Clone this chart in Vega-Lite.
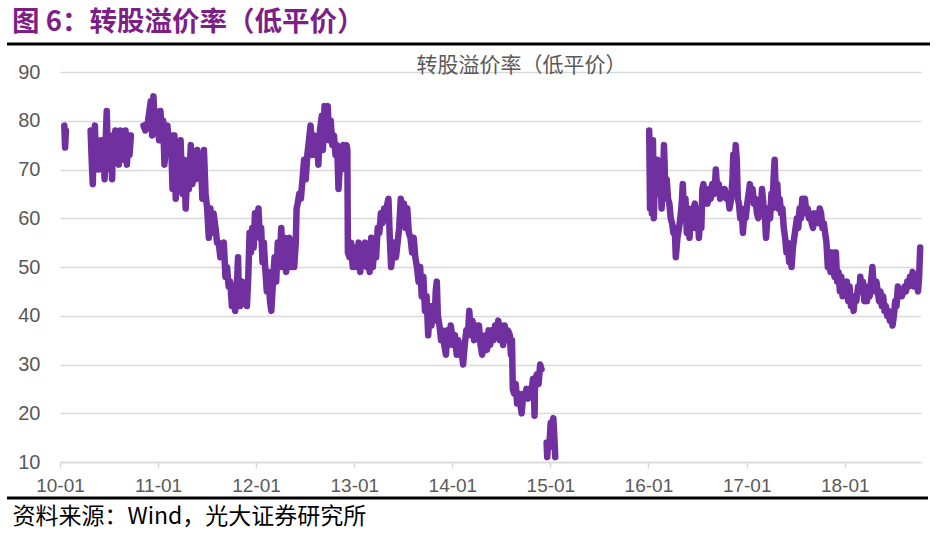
{
  "$schema": "https://vega.github.io/schema/vega-lite/v6.json",
  "width": 861,
  "height": 390,
  "autosize": {"type": "none"},
  "padding": {"left": 60, "top": 72, "right": 15, "bottom": 72},
  "background": "white",
  "config": {"view": {"stroke": null}, "font": "Liberation Sans"},
  "title": {
    "text": "图 6：转股溢价率（低平价）",
    "anchor": "start",
    "frame": "group",
    "dx": -48,
    "offset": 6,
    "font": "Noto Sans CJK SC",
    "fontSize": 27.5,
    "fontWeight": "bold",
    "color": "#7E1F86"
  },
  "layer": [
    {
      "data": {
        "values": [
          {"d": "2010-01-17", "v": 79, "s": "A"},
          {"d": "2010-01-20", "v": 74.5, "s": "A"},
          {"d": "2010-01-23", "v": 78, "s": "A"},
          {"d": "2010-04-25", "v": 78, "s": "B"},
          {"d": "2010-04-29", "v": 72, "s": "B"},
          {"d": "2010-05-03", "v": 67, "s": "B"},
          {"d": "2010-05-07", "v": 76, "s": "B"},
          {"d": "2010-05-11", "v": 79, "s": "B"},
          {"d": "2010-05-15", "v": 71, "s": "B"},
          {"d": "2010-05-19", "v": 76, "s": "B"},
          {"d": "2010-05-23", "v": 70, "s": "B"},
          {"d": "2010-05-27", "v": 75, "s": "B"},
          {"d": "2010-05-31", "v": 72, "s": "B"},
          {"d": "2010-06-04", "v": 76, "s": "B"},
          {"d": "2010-06-08", "v": 70, "s": "B"},
          {"d": "2010-06-12", "v": 74, "s": "B"},
          {"d": "2010-06-16", "v": 68, "s": "B"},
          {"d": "2010-06-20", "v": 76, "s": "B"},
          {"d": "2010-06-24", "v": 82, "s": "B"},
          {"d": "2010-06-28", "v": 74, "s": "B"},
          {"d": "2010-07-02", "v": 77, "s": "B"},
          {"d": "2010-07-06", "v": 70, "s": "B"},
          {"d": "2010-07-10", "v": 75, "s": "B"},
          {"d": "2010-07-14", "v": 68, "s": "B"},
          {"d": "2010-07-18", "v": 77, "s": "B"},
          {"d": "2010-07-22", "v": 73, "s": "B"},
          {"d": "2010-07-26", "v": 78, "s": "B"},
          {"d": "2010-07-30", "v": 72, "s": "B"},
          {"d": "2010-08-03", "v": 77, "s": "B"},
          {"d": "2010-08-08", "v": 71, "s": "B"},
          {"d": "2010-08-13", "v": 78, "s": "B"},
          {"d": "2010-08-18", "v": 73, "s": "B"},
          {"d": "2010-08-23", "v": 77, "s": "B"},
          {"d": "2010-08-28", "v": 72, "s": "B"},
          {"d": "2010-09-02", "v": 78, "s": "B"},
          {"d": "2010-09-07", "v": 71, "s": "B"},
          {"d": "2010-09-12", "v": 76, "s": "B"},
          {"d": "2010-09-17", "v": 73, "s": "B"},
          {"d": "2010-09-22", "v": 77, "s": "B"},
          {"d": "2010-11-08", "v": 79, "s": "C"},
          {"d": "2010-11-15", "v": 78, "s": "C"},
          {"d": "2010-11-25", "v": 80, "s": "C"},
          {"d": "2010-12-05", "v": 84, "s": "C"},
          {"d": "2010-12-10", "v": 77, "s": "C"},
          {"d": "2010-12-15", "v": 85, "s": "C"},
          {"d": "2010-12-20", "v": 79, "s": "C"},
          {"d": "2010-12-25", "v": 82, "s": "C"},
          {"d": "2011-01-05", "v": 76, "s": "C"},
          {"d": "2011-01-10", "v": 82, "s": "C"},
          {"d": "2011-01-15", "v": 77, "s": "C"},
          {"d": "2011-01-20", "v": 80, "s": "C"},
          {"d": "2011-01-25", "v": 71, "s": "C"},
          {"d": "2011-02-05", "v": 79, "s": "C"},
          {"d": "2011-02-12", "v": 74, "s": "C"},
          {"d": "2011-02-18", "v": 77, "s": "C"},
          {"d": "2011-02-24", "v": 66, "s": "C"},
          {"d": "2011-03-03", "v": 77, "s": "C"},
          {"d": "2011-03-08", "v": 64, "s": "C"},
          {"d": "2011-03-14", "v": 75, "s": "C"},
          {"d": "2011-03-20", "v": 66, "s": "C"},
          {"d": "2011-03-26", "v": 76, "s": "C"},
          {"d": "2011-04-02", "v": 65, "s": "C"},
          {"d": "2011-04-08", "v": 72, "s": "C"},
          {"d": "2011-04-14", "v": 62, "s": "C"},
          {"d": "2011-04-20", "v": 70, "s": "C"},
          {"d": "2011-04-26", "v": 66, "s": "C"},
          {"d": "2011-05-03", "v": 75, "s": "C"},
          {"d": "2011-05-09", "v": 67, "s": "C"},
          {"d": "2011-05-15", "v": 73, "s": "C"},
          {"d": "2011-05-21", "v": 68, "s": "C"},
          {"d": "2011-05-27", "v": 74, "s": "C"},
          {"d": "2011-06-03", "v": 69, "s": "C"},
          {"d": "2011-06-09", "v": 73, "s": "C"},
          {"d": "2011-06-15", "v": 64, "s": "C"},
          {"d": "2011-06-21", "v": 74, "s": "C"},
          {"d": "2011-06-27", "v": 65, "s": "C"},
          {"d": "2011-07-03", "v": 62, "s": "C"},
          {"d": "2011-07-09", "v": 56, "s": "C"},
          {"d": "2011-07-15", "v": 62, "s": "C"},
          {"d": "2011-07-21", "v": 57, "s": "C"},
          {"d": "2011-07-27", "v": 61, "s": "C"},
          {"d": "2011-08-03", "v": 58, "s": "C"},
          {"d": "2011-08-09", "v": 55, "s": "C"},
          {"d": "2011-08-15", "v": 55, "s": "C"},
          {"d": "2011-08-21", "v": 52, "s": "C"},
          {"d": "2011-08-27", "v": 54, "s": "C"},
          {"d": "2011-09-03", "v": 55, "s": "C"},
          {"d": "2011-09-09", "v": 48, "s": "C"},
          {"d": "2011-09-15", "v": 50, "s": "C"},
          {"d": "2011-09-21", "v": 46, "s": "C"},
          {"d": "2011-09-27", "v": 47, "s": "C"},
          {"d": "2011-10-03", "v": 42, "s": "C"},
          {"d": "2011-10-09", "v": 46, "s": "C"},
          {"d": "2011-10-15", "v": 41, "s": "C"},
          {"d": "2011-10-21", "v": 45, "s": "C"},
          {"d": "2011-10-26", "v": 52, "s": "C"},
          {"d": "2011-10-29", "v": 44, "s": "C"},
          {"d": "2011-11-04", "v": 42, "s": "C"},
          {"d": "2011-11-10", "v": 47, "s": "C"},
          {"d": "2011-11-16", "v": 43, "s": "C"},
          {"d": "2011-11-22", "v": 46, "s": "C"},
          {"d": "2011-11-28", "v": 42, "s": "C"},
          {"d": "2011-12-03", "v": 48, "s": "C"},
          {"d": "2011-12-08", "v": 57, "s": "C"},
          {"d": "2011-12-13", "v": 53, "s": "C"},
          {"d": "2011-12-18", "v": 58, "s": "C"},
          {"d": "2011-12-23", "v": 54, "s": "C"},
          {"d": "2011-12-28", "v": 61, "s": "C"},
          {"d": "2012-01-05", "v": 59, "s": "C"},
          {"d": "2012-01-10", "v": 62, "s": "C"},
          {"d": "2012-01-15", "v": 56, "s": "C"},
          {"d": "2012-01-20", "v": 58, "s": "C"},
          {"d": "2012-01-25", "v": 51, "s": "C"},
          {"d": "2012-01-30", "v": 55, "s": "C"},
          {"d": "2012-02-04", "v": 50, "s": "C"},
          {"d": "2012-02-10", "v": 45, "s": "C"},
          {"d": "2012-02-16", "v": 49, "s": "C"},
          {"d": "2012-02-22", "v": 43, "s": "C"},
          {"d": "2012-02-27", "v": 41, "s": "C"},
          {"d": "2012-03-04", "v": 47, "s": "C"},
          {"d": "2012-03-10", "v": 52, "s": "C"},
          {"d": "2012-03-16", "v": 47, "s": "C"},
          {"d": "2012-03-22", "v": 55, "s": "C"},
          {"d": "2012-03-28", "v": 50, "s": "C"},
          {"d": "2012-04-04", "v": 58, "s": "C"},
          {"d": "2012-04-10", "v": 50, "s": "C"},
          {"d": "2012-04-16", "v": 56, "s": "C"},
          {"d": "2012-04-22", "v": 49, "s": "C"},
          {"d": "2012-04-28", "v": 55, "s": "C"},
          {"d": "2012-05-04", "v": 56, "s": "C"},
          {"d": "2012-05-10", "v": 50, "s": "C"},
          {"d": "2012-05-16", "v": 54, "s": "C"},
          {"d": "2012-05-22", "v": 50, "s": "C"},
          {"d": "2012-05-28", "v": 55, "s": "C"},
          {"d": "2012-05-31", "v": 62, "s": "C"},
          {"d": "2012-06-04", "v": 63, "s": "C"},
          {"d": "2012-06-10", "v": 65, "s": "C"},
          {"d": "2012-06-16", "v": 64, "s": "C"},
          {"d": "2012-06-22", "v": 68, "s": "C"},
          {"d": "2012-06-28", "v": 72, "s": "C"},
          {"d": "2012-07-04", "v": 68, "s": "C"},
          {"d": "2012-07-10", "v": 73, "s": "C"},
          {"d": "2012-07-16", "v": 76, "s": "C"},
          {"d": "2012-07-22", "v": 79, "s": "C"},
          {"d": "2012-07-28", "v": 73, "s": "C"},
          {"d": "2012-08-04", "v": 77, "s": "C"},
          {"d": "2012-08-10", "v": 73, "s": "C"},
          {"d": "2012-08-16", "v": 76, "s": "C"},
          {"d": "2012-08-20", "v": 71, "s": "C"},
          {"d": "2012-08-26", "v": 78, "s": "C"},
          {"d": "2012-09-02", "v": 81, "s": "C"},
          {"d": "2012-09-06", "v": 74, "s": "C"},
          {"d": "2012-09-12", "v": 83, "s": "C"},
          {"d": "2012-09-18", "v": 80, "s": "C"},
          {"d": "2012-09-24", "v": 83, "s": "C"},
          {"d": "2012-09-29", "v": 76, "s": "C"},
          {"d": "2012-10-05", "v": 80, "s": "C"},
          {"d": "2012-10-11", "v": 75, "s": "C"},
          {"d": "2012-10-17", "v": 77, "s": "C"},
          {"d": "2012-10-23", "v": 73, "s": "C"},
          {"d": "2012-10-29", "v": 75, "s": "C"},
          {"d": "2012-11-03", "v": 66, "s": "C"},
          {"d": "2012-11-09", "v": 72, "s": "C"},
          {"d": "2012-11-15", "v": 70, "s": "C"},
          {"d": "2012-11-21", "v": 75, "s": "C"},
          {"d": "2012-11-27", "v": 71, "s": "C"},
          {"d": "2012-12-03", "v": 75, "s": "C"},
          {"d": "2012-12-06", "v": 74, "s": "C"},
          {"d": "2012-12-08", "v": 53, "s": "C"},
          {"d": "2012-12-14", "v": 52, "s": "C"},
          {"d": "2012-12-20", "v": 55, "s": "C"},
          {"d": "2012-12-26", "v": 50, "s": "C"},
          {"d": "2013-01-05", "v": 54, "s": "C"},
          {"d": "2013-01-11", "v": 50, "s": "C"},
          {"d": "2013-01-17", "v": 55, "s": "C"},
          {"d": "2013-01-23", "v": 49, "s": "C"},
          {"d": "2013-01-29", "v": 54, "s": "C"},
          {"d": "2013-02-04", "v": 51, "s": "C"},
          {"d": "2013-02-10", "v": 55, "s": "C"},
          {"d": "2013-02-16", "v": 50, "s": "C"},
          {"d": "2013-02-22", "v": 54, "s": "C"},
          {"d": "2013-02-27", "v": 49, "s": "C"},
          {"d": "2013-03-05", "v": 56, "s": "C"},
          {"d": "2013-03-11", "v": 50, "s": "C"},
          {"d": "2013-03-17", "v": 55, "s": "C"},
          {"d": "2013-03-23", "v": 52, "s": "C"},
          {"d": "2013-03-29", "v": 58, "s": "C"},
          {"d": "2013-04-04", "v": 57, "s": "C"},
          {"d": "2013-04-10", "v": 61, "s": "C"},
          {"d": "2013-04-16", "v": 59, "s": "C"},
          {"d": "2013-04-22", "v": 62, "s": "C"},
          {"d": "2013-04-28", "v": 60, "s": "C"},
          {"d": "2013-05-04", "v": 63, "s": "C"},
          {"d": "2013-05-08", "v": 64, "s": "C"},
          {"d": "2013-05-13", "v": 56, "s": "C"},
          {"d": "2013-05-18", "v": 50, "s": "C"},
          {"d": "2013-05-24", "v": 53, "s": "C"},
          {"d": "2013-05-30", "v": 55, "s": "C"},
          {"d": "2013-06-05", "v": 52, "s": "C"},
          {"d": "2013-06-11", "v": 55, "s": "C"},
          {"d": "2013-06-17", "v": 58, "s": "C"},
          {"d": "2013-06-23", "v": 64, "s": "C"},
          {"d": "2013-06-29", "v": 62, "s": "C"},
          {"d": "2013-07-05", "v": 63, "s": "C"},
          {"d": "2013-07-11", "v": 58, "s": "C"},
          {"d": "2013-07-17", "v": 62, "s": "C"},
          {"d": "2013-07-23", "v": 57, "s": "C"},
          {"d": "2013-07-29", "v": 56, "s": "C"},
          {"d": "2013-08-04", "v": 53, "s": "C"},
          {"d": "2013-08-10", "v": 56, "s": "C"},
          {"d": "2013-08-16", "v": 52, "s": "C"},
          {"d": "2013-08-22", "v": 50, "s": "C"},
          {"d": "2013-08-28", "v": 47, "s": "C"},
          {"d": "2013-09-03", "v": 50, "s": "C"},
          {"d": "2013-09-09", "v": 44, "s": "C"},
          {"d": "2013-09-15", "v": 48, "s": "C"},
          {"d": "2013-09-21", "v": 41, "s": "C"},
          {"d": "2013-09-27", "v": 44, "s": "C"},
          {"d": "2013-10-03", "v": 36, "s": "C"},
          {"d": "2013-10-09", "v": 42, "s": "C"},
          {"d": "2013-10-15", "v": 38, "s": "C"},
          {"d": "2013-10-21", "v": 42, "s": "C"},
          {"d": "2013-10-27", "v": 39, "s": "C"},
          {"d": "2013-10-31", "v": 45, "s": "C"},
          {"d": "2013-11-04", "v": 47, "s": "C"},
          {"d": "2013-11-08", "v": 40, "s": "C"},
          {"d": "2013-11-14", "v": 38, "s": "C"},
          {"d": "2013-11-20", "v": 35, "s": "C"},
          {"d": "2013-11-26", "v": 37, "s": "C"},
          {"d": "2013-12-02", "v": 34, "s": "C"},
          {"d": "2013-12-08", "v": 32, "s": "C"},
          {"d": "2013-12-14", "v": 37, "s": "C"},
          {"d": "2013-12-20", "v": 34, "s": "C"},
          {"d": "2013-12-26", "v": 38, "s": "C"},
          {"d": "2014-01-05", "v": 34, "s": "C"},
          {"d": "2014-01-11", "v": 36, "s": "C"},
          {"d": "2014-01-17", "v": 32, "s": "C"},
          {"d": "2014-01-23", "v": 35, "s": "C"},
          {"d": "2014-01-29", "v": 32, "s": "C"},
          {"d": "2014-02-04", "v": 33, "s": "C"},
          {"d": "2014-02-10", "v": 30, "s": "C"},
          {"d": "2014-02-16", "v": 34, "s": "C"},
          {"d": "2014-02-22", "v": 37, "s": "C"},
          {"d": "2014-02-28", "v": 36, "s": "C"},
          {"d": "2014-03-05", "v": 41, "s": "C"},
          {"d": "2014-03-11", "v": 36, "s": "C"},
          {"d": "2014-03-17", "v": 39, "s": "C"},
          {"d": "2014-03-23", "v": 35, "s": "C"},
          {"d": "2014-03-29", "v": 38, "s": "C"},
          {"d": "2014-04-04", "v": 36, "s": "C"},
          {"d": "2014-04-10", "v": 38, "s": "C"},
          {"d": "2014-04-16", "v": 34, "s": "C"},
          {"d": "2014-04-22", "v": 32, "s": "C"},
          {"d": "2014-04-28", "v": 35, "s": "C"},
          {"d": "2014-05-04", "v": 36, "s": "C"},
          {"d": "2014-05-10", "v": 33, "s": "C"},
          {"d": "2014-05-16", "v": 37, "s": "C"},
          {"d": "2014-05-22", "v": 34, "s": "C"},
          {"d": "2014-05-28", "v": 37, "s": "C"},
          {"d": "2014-06-03", "v": 35, "s": "C"},
          {"d": "2014-06-09", "v": 38, "s": "C"},
          {"d": "2014-06-15", "v": 36, "s": "C"},
          {"d": "2014-06-21", "v": 39, "s": "C"},
          {"d": "2014-06-27", "v": 35, "s": "C"},
          {"d": "2014-07-03", "v": 38, "s": "C"},
          {"d": "2014-07-09", "v": 34, "s": "C"},
          {"d": "2014-07-15", "v": 38, "s": "C"},
          {"d": "2014-07-21", "v": 35, "s": "C"},
          {"d": "2014-07-27", "v": 37, "s": "C"},
          {"d": "2014-08-03", "v": 36, "s": "C"},
          {"d": "2014-08-07", "v": 32, "s": "C"},
          {"d": "2014-08-11", "v": 35, "s": "C"},
          {"d": "2014-08-14", "v": 25, "s": "C"},
          {"d": "2014-08-19", "v": 24, "s": "C"},
          {"d": "2014-08-25", "v": 26, "s": "C"},
          {"d": "2014-08-30", "v": 22, "s": "C"},
          {"d": "2014-09-05", "v": 24, "s": "C"},
          {"d": "2014-09-11", "v": 22, "s": "C"},
          {"d": "2014-09-16", "v": 20, "s": "C"},
          {"d": "2014-09-22", "v": 24, "s": "C"},
          {"d": "2014-09-28", "v": 23, "s": "C"},
          {"d": "2014-10-04", "v": 25, "s": "C"},
          {"d": "2014-10-10", "v": 23, "s": "C"},
          {"d": "2014-10-16", "v": 25, "s": "C"},
          {"d": "2014-10-22", "v": 24, "s": "C"},
          {"d": "2014-10-28", "v": 27, "s": "C"},
          {"d": "2014-11-01", "v": 24, "s": "C"},
          {"d": "2014-11-03", "v": 19.5, "s": "C"},
          {"d": "2014-11-05", "v": 27, "s": "C"},
          {"d": "2014-11-12", "v": 28, "s": "C"},
          {"d": "2014-11-18", "v": 26, "s": "C"},
          {"d": "2014-11-24", "v": 30, "s": "C"},
          {"d": "2014-11-29", "v": 29, "s": "C"},
          {"d": "2014-12-18", "v": 14, "s": "D"},
          {"d": "2014-12-20", "v": 11, "s": "D"},
          {"d": "2014-12-24", "v": 14, "s": "D"},
          {"d": "2014-12-28", "v": 13, "s": "D"},
          {"d": "2015-01-02", "v": 18, "s": "D"},
          {"d": "2015-01-05", "v": 14, "s": "D"},
          {"d": "2015-01-08", "v": 18, "s": "D"},
          {"d": "2015-01-12", "v": 19, "s": "D"},
          {"d": "2015-01-15", "v": 16, "s": "D"},
          {"d": "2015-01-19", "v": 11, "s": "D"},
          {"d": "2016-01-04", "v": 78, "s": "E"},
          {"d": "2016-01-07", "v": 62, "s": "E"},
          {"d": "2016-01-11", "v": 72, "s": "E"},
          {"d": "2016-01-14", "v": 61, "s": "E"},
          {"d": "2016-01-18", "v": 76, "s": "E"},
          {"d": "2016-01-21", "v": 60, "s": "E"},
          {"d": "2016-01-26", "v": 70, "s": "E"},
          {"d": "2016-01-29", "v": 66, "s": "E"},
          {"d": "2016-02-03", "v": 72, "s": "E"},
          {"d": "2016-02-08", "v": 65, "s": "E"},
          {"d": "2016-02-15", "v": 70, "s": "E"},
          {"d": "2016-02-19", "v": 62, "s": "E"},
          {"d": "2016-02-24", "v": 68, "s": "E"},
          {"d": "2016-02-28", "v": 75, "s": "E"},
          {"d": "2016-03-04", "v": 66, "s": "E"},
          {"d": "2016-03-09", "v": 68, "s": "E"},
          {"d": "2016-03-14", "v": 64, "s": "E"},
          {"d": "2016-03-19", "v": 63, "s": "E"},
          {"d": "2016-03-24", "v": 60, "s": "E"},
          {"d": "2016-03-29", "v": 59, "s": "E"},
          {"d": "2016-04-03", "v": 57, "s": "E"},
          {"d": "2016-04-08", "v": 58, "s": "E"},
          {"d": "2016-04-12", "v": 52, "s": "E"},
          {"d": "2016-04-18", "v": 56, "s": "E"},
          {"d": "2016-04-24", "v": 58, "s": "E"},
          {"d": "2016-04-29", "v": 60, "s": "E"},
          {"d": "2016-05-04", "v": 63, "s": "E"},
          {"d": "2016-05-08", "v": 67, "s": "E"},
          {"d": "2016-05-13", "v": 60, "s": "E"},
          {"d": "2016-05-18", "v": 64, "s": "E"},
          {"d": "2016-05-23", "v": 57, "s": "E"},
          {"d": "2016-05-28", "v": 62, "s": "E"},
          {"d": "2016-06-02", "v": 56, "s": "E"},
          {"d": "2016-06-07", "v": 61, "s": "E"},
          {"d": "2016-06-12", "v": 58, "s": "E"},
          {"d": "2016-06-17", "v": 62, "s": "E"},
          {"d": "2016-06-22", "v": 63, "s": "E"},
          {"d": "2016-06-27", "v": 58, "s": "E"},
          {"d": "2016-07-02", "v": 62, "s": "E"},
          {"d": "2016-07-07", "v": 56, "s": "E"},
          {"d": "2016-07-12", "v": 60, "s": "E"},
          {"d": "2016-07-16", "v": 58, "s": "E"},
          {"d": "2016-07-20", "v": 66, "s": "E"},
          {"d": "2016-07-24", "v": 67, "s": "E"},
          {"d": "2016-07-29", "v": 63, "s": "E"},
          {"d": "2016-08-03", "v": 65, "s": "E"},
          {"d": "2016-08-08", "v": 63, "s": "E"},
          {"d": "2016-08-14", "v": 66, "s": "E"},
          {"d": "2016-08-20", "v": 64, "s": "E"},
          {"d": "2016-08-26", "v": 67, "s": "E"},
          {"d": "2016-09-03", "v": 65, "s": "E"},
          {"d": "2016-09-08", "v": 70, "s": "E"},
          {"d": "2016-09-13", "v": 66, "s": "E"},
          {"d": "2016-09-19", "v": 67, "s": "E"},
          {"d": "2016-09-24", "v": 64, "s": "E"},
          {"d": "2016-09-29", "v": 66, "s": "E"},
          {"d": "2016-10-05", "v": 65, "s": "E"},
          {"d": "2016-10-11", "v": 66, "s": "E"},
          {"d": "2016-10-17", "v": 64, "s": "E"},
          {"d": "2016-10-23", "v": 65, "s": "E"},
          {"d": "2016-10-29", "v": 62, "s": "E"},
          {"d": "2016-11-04", "v": 64, "s": "E"},
          {"d": "2016-11-09", "v": 68, "s": "E"},
          {"d": "2016-11-12", "v": 73, "s": "E"},
          {"d": "2016-11-17", "v": 70, "s": "E"},
          {"d": "2016-11-21", "v": 75, "s": "E"},
          {"d": "2016-11-25", "v": 72, "s": "E"},
          {"d": "2016-11-29", "v": 64, "s": "E"},
          {"d": "2016-12-03", "v": 63, "s": "E"},
          {"d": "2016-12-08", "v": 60, "s": "E"},
          {"d": "2016-12-13", "v": 62, "s": "E"},
          {"d": "2016-12-18", "v": 57, "s": "E"},
          {"d": "2016-12-23", "v": 61, "s": "E"},
          {"d": "2016-12-28", "v": 60, "s": "E"},
          {"d": "2017-01-03", "v": 63, "s": "E"},
          {"d": "2017-01-08", "v": 65, "s": "E"},
          {"d": "2017-01-13", "v": 67, "s": "E"},
          {"d": "2017-01-18", "v": 64, "s": "E"},
          {"d": "2017-01-23", "v": 66, "s": "E"},
          {"d": "2017-01-28", "v": 63, "s": "E"},
          {"d": "2017-02-03", "v": 64, "s": "E"},
          {"d": "2017-02-08", "v": 61, "s": "E"},
          {"d": "2017-02-13", "v": 60, "s": "E"},
          {"d": "2017-02-18", "v": 63, "s": "E"},
          {"d": "2017-02-23", "v": 62, "s": "E"},
          {"d": "2017-02-27", "v": 66, "s": "E"},
          {"d": "2017-03-04", "v": 63, "s": "E"},
          {"d": "2017-03-09", "v": 61, "s": "E"},
          {"d": "2017-03-14", "v": 56, "s": "E"},
          {"d": "2017-03-19", "v": 60, "s": "E"},
          {"d": "2017-03-24", "v": 62, "s": "E"},
          {"d": "2017-03-29", "v": 60, "s": "E"},
          {"d": "2017-04-03", "v": 65, "s": "E"},
          {"d": "2017-04-07", "v": 62, "s": "E"},
          {"d": "2017-04-11", "v": 68, "s": "E"},
          {"d": "2017-04-15", "v": 72, "s": "E"},
          {"d": "2017-04-20", "v": 64, "s": "E"},
          {"d": "2017-04-25", "v": 67, "s": "E"},
          {"d": "2017-04-29", "v": 62, "s": "E"},
          {"d": "2017-05-04", "v": 64, "s": "E"},
          {"d": "2017-05-09", "v": 61, "s": "E"},
          {"d": "2017-05-14", "v": 62, "s": "E"},
          {"d": "2017-05-19", "v": 58, "s": "E"},
          {"d": "2017-05-24", "v": 56, "s": "E"},
          {"d": "2017-05-29", "v": 53, "s": "E"},
          {"d": "2017-06-03", "v": 55, "s": "E"},
          {"d": "2017-06-08", "v": 51, "s": "E"},
          {"d": "2017-06-13", "v": 53, "s": "E"},
          {"d": "2017-06-17", "v": 50, "s": "E"},
          {"d": "2017-06-22", "v": 54, "s": "E"},
          {"d": "2017-06-27", "v": 56, "s": "E"},
          {"d": "2017-07-02", "v": 58, "s": "E"},
          {"d": "2017-07-07", "v": 60, "s": "E"},
          {"d": "2017-07-12", "v": 58, "s": "E"},
          {"d": "2017-07-17", "v": 62, "s": "E"},
          {"d": "2017-07-22", "v": 60, "s": "E"},
          {"d": "2017-07-27", "v": 64, "s": "E"},
          {"d": "2017-08-01", "v": 62, "s": "E"},
          {"d": "2017-08-06", "v": 64, "s": "E"},
          {"d": "2017-08-11", "v": 61, "s": "E"},
          {"d": "2017-08-16", "v": 62, "s": "E"},
          {"d": "2017-08-21", "v": 60, "s": "E"},
          {"d": "2017-08-26", "v": 61, "s": "E"},
          {"d": "2017-08-31", "v": 59, "s": "E"},
          {"d": "2017-09-05", "v": 58, "s": "E"},
          {"d": "2017-09-10", "v": 61, "s": "E"},
          {"d": "2017-09-15", "v": 60, "s": "E"},
          {"d": "2017-09-20", "v": 61, "s": "E"},
          {"d": "2017-09-25", "v": 59, "s": "E"},
          {"d": "2017-09-30", "v": 62, "s": "E"},
          {"d": "2017-10-05", "v": 61, "s": "E"},
          {"d": "2017-10-10", "v": 58, "s": "E"},
          {"d": "2017-10-15", "v": 59, "s": "E"},
          {"d": "2017-10-20", "v": 57, "s": "E"},
          {"d": "2017-10-25", "v": 55, "s": "E"},
          {"d": "2017-10-30", "v": 50, "s": "E"},
          {"d": "2017-11-04", "v": 51, "s": "E"},
          {"d": "2017-11-09", "v": 49, "s": "E"},
          {"d": "2017-11-14", "v": 53, "s": "E"},
          {"d": "2017-11-19", "v": 50, "s": "E"},
          {"d": "2017-11-24", "v": 48, "s": "E"},
          {"d": "2017-11-29", "v": 53, "s": "E"},
          {"d": "2017-12-04", "v": 47, "s": "E"},
          {"d": "2017-12-09", "v": 49, "s": "E"},
          {"d": "2017-12-14", "v": 45, "s": "E"},
          {"d": "2017-12-19", "v": 48, "s": "E"},
          {"d": "2017-12-24", "v": 44, "s": "E"},
          {"d": "2017-12-29", "v": 46, "s": "E"},
          {"d": "2018-01-04", "v": 44, "s": "E"},
          {"d": "2018-01-09", "v": 47, "s": "E"},
          {"d": "2018-01-14", "v": 43, "s": "E"},
          {"d": "2018-01-19", "v": 46, "s": "E"},
          {"d": "2018-01-24", "v": 42, "s": "E"},
          {"d": "2018-01-29", "v": 44, "s": "E"},
          {"d": "2018-02-03", "v": 41, "s": "E"},
          {"d": "2018-02-08", "v": 44, "s": "E"},
          {"d": "2018-02-13", "v": 43, "s": "E"},
          {"d": "2018-02-20", "v": 46, "s": "E"},
          {"d": "2018-02-25", "v": 45, "s": "E"},
          {"d": "2018-02-28", "v": 48, "s": "E"},
          {"d": "2018-03-05", "v": 45, "s": "E"},
          {"d": "2018-03-10", "v": 47, "s": "E"},
          {"d": "2018-03-15", "v": 43, "s": "E"},
          {"d": "2018-03-20", "v": 45, "s": "E"},
          {"d": "2018-03-25", "v": 43, "s": "E"},
          {"d": "2018-03-30", "v": 46, "s": "E"},
          {"d": "2018-04-04", "v": 44, "s": "E"},
          {"d": "2018-04-09", "v": 47, "s": "E"},
          {"d": "2018-04-14", "v": 50, "s": "E"},
          {"d": "2018-04-19", "v": 46, "s": "E"},
          {"d": "2018-04-24", "v": 45, "s": "E"},
          {"d": "2018-04-29", "v": 47, "s": "E"},
          {"d": "2018-05-04", "v": 45, "s": "E"},
          {"d": "2018-05-09", "v": 43, "s": "E"},
          {"d": "2018-05-14", "v": 45, "s": "E"},
          {"d": "2018-05-19", "v": 42, "s": "E"},
          {"d": "2018-05-24", "v": 44, "s": "E"},
          {"d": "2018-05-29", "v": 41, "s": "E"},
          {"d": "2018-06-03", "v": 42, "s": "E"},
          {"d": "2018-06-08", "v": 40, "s": "E"},
          {"d": "2018-06-13", "v": 41, "s": "E"},
          {"d": "2018-06-18", "v": 39, "s": "E"},
          {"d": "2018-06-23", "v": 40, "s": "E"},
          {"d": "2018-06-28", "v": 38, "s": "E"},
          {"d": "2018-07-03", "v": 40, "s": "E"},
          {"d": "2018-07-08", "v": 43, "s": "E"},
          {"d": "2018-07-13", "v": 42, "s": "E"},
          {"d": "2018-07-18", "v": 46, "s": "E"},
          {"d": "2018-07-23", "v": 44, "s": "E"},
          {"d": "2018-07-28", "v": 45, "s": "E"},
          {"d": "2018-08-02", "v": 44, "s": "E"},
          {"d": "2018-08-07", "v": 45, "s": "E"},
          {"d": "2018-08-12", "v": 46, "s": "E"},
          {"d": "2018-08-17", "v": 45, "s": "E"},
          {"d": "2018-08-22", "v": 47, "s": "E"},
          {"d": "2018-08-27", "v": 46, "s": "E"},
          {"d": "2018-09-01", "v": 48, "s": "E"},
          {"d": "2018-09-06", "v": 47, "s": "E"},
          {"d": "2018-09-11", "v": 49, "s": "E"},
          {"d": "2018-09-16", "v": 46, "s": "E"},
          {"d": "2018-09-21", "v": 48, "s": "E"},
          {"d": "2018-09-26", "v": 47, "s": "E"},
          {"d": "2018-10-01", "v": 45, "s": "E"},
          {"d": "2018-10-05", "v": 48, "s": "E"},
          {"d": "2018-10-09", "v": 54, "s": "E"}
        ]
      },
      "mark": {"type": "line", "color": "#7030A0", "strokeWidth": 6.5, "strokeJoin": "round", "strokeCap": "round"},
      "encoding": {
        "x": {
          "field": "d",
          "type": "temporal",
          "scale": {
            "type": "utc",
            "domain": [
              {"year": 2010, "month": 1, "date": 1, "utc": true},
              {"year": 2018, "month": 10, "date": 12, "utc": true}
            ]
          },
          "axis": {
            "values": [
              {"year": 2010, "month": 1, "date": 1, "utc": true},
              {"year": 2011, "month": 1, "date": 1, "utc": true},
              {"year": 2012, "month": 1, "date": 1, "utc": true},
              {"year": 2013, "month": 1, "date": 1, "utc": true},
              {"year": 2014, "month": 1, "date": 1, "utc": true},
              {"year": 2015, "month": 1, "date": 1, "utc": true},
              {"year": 2016, "month": 1, "date": 1, "utc": true},
              {"year": 2017, "month": 1, "date": 1, "utc": true},
              {"year": 2018, "month": 1, "date": 1, "utc": true}
            ],
            "labelExpr": "utcFormat(datum.value, '%y-%m')",
            "grid": false,
            "domainColor": "#D9D9D9",
            "domainWidth": 1.5,
            "tickColor": "#D9D9D9",
            "tickWidth": 1.5,
            "tickSize": 6,
            "labelFont": "Liberation Sans",
            "labelFontSize": 19,
            "labelColor": "#595959",
            "labelPadding": 8,
            "labelFlush": false,
            "labelOverlap": false,
            "title": "资料来源：Wind，光大证券研究所",
            "titleX": -48,
            "titleY": 54,
            "titleAlign": "left",
            "titleBaseline": "middle",
            "titleAngle": 0,
            "titleFont": "Noto Sans CJK SC",
            "titleFontSize": 23,
            "titleFontWeight": "normal",
            "titleColor": "#000000"
          }
        },
        "y": {
          "field": "v",
          "type": "quantitative",
          "scale": {"domain": [10, 90], "nice": false, "zero": false},
          "axis": {
            "values": [10, 20, 30, 40, 50, 60, 70, 80, 90],
            "grid": true,
            "gridColor": "#D9D9D9",
            "gridWidth": 1.5,
            "domain": false,
            "ticks": false,
            "labelFont": "Liberation Sans",
            "labelFontSize": 20,
            "labelColor": "#595959",
            "labelPadding": 20,
            "title": "转股溢价率（低平价）",
            "titleX": 461,
            "titleY": -7,
            "titleAngle": 0,
            "titleAlign": "center",
            "titleBaseline": "middle",
            "titleFont": "Noto Sans CJK SC",
            "titleFontSize": 21,
            "titleFontWeight": "normal",
            "titleColor": "#595959"
          }
        },
        "detail": {"field": "s", "type": "nominal"}
      }
    },
    {
      "data": {"values": [{}]},
      "mark": {"type": "rule", "color": "#000000", "strokeWidth": 3},
      "encoding": {"x": {"value": -53}, "x2": {"value": 870}, "y": {"value": -28}}
    },
    {
      "data": {"values": [{}]},
      "mark": {"type": "rule", "color": "#000000", "strokeWidth": 3},
      "encoding": {"x": {"value": -53}, "x2": {"value": 868}, "y": {"value": 426}}
    }
  ]
}
